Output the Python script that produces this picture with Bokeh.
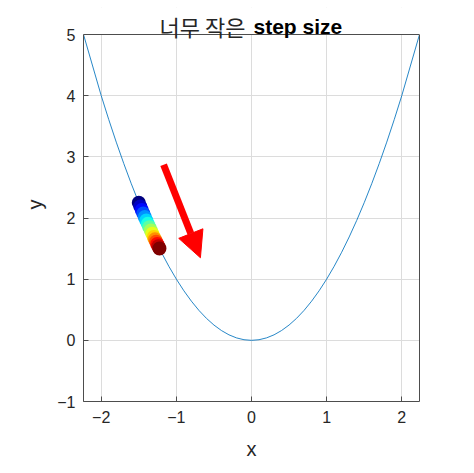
from bokeh.plotting import figure
from bokeh.models import (Arrow, NormalHead, Label, Range1d, FixedTicker, LinearAxis,
                          Span, BoxAnnotation)
from bokeh.embed import file_html
from bokeh.resources import INLINE

# parabola (y = x^2 samples)
curve_x = [-2.236, -2.0, -1.9, -1.8, -1.7, -1.6, -1.5, -1.4, -1.3, -1.2, -1.1, -1.0,
           -0.9, -0.8, -0.7, -0.6, -0.5, -0.4, -0.3, -0.2, -0.1, 0.0,
           0.1, 0.2, 0.3, 0.4, 0.5, 0.6, 0.7, 0.8, 0.9, 1.0, 1.1, 1.2, 1.3, 1.4,
           1.5, 1.6, 1.7, 1.8, 1.9, 2.0, 2.236]
curve_y = [5.0, 4.0, 3.61, 3.24, 2.89, 2.56, 2.25, 1.96, 1.69, 1.44, 1.21, 1.0,
           0.81, 0.64, 0.49, 0.36, 0.25, 0.16, 0.09, 0.04, 0.01, 0.0,
           0.01, 0.04, 0.09, 0.16, 0.25, 0.36, 0.49, 0.64, 0.81, 1.0, 1.21, 1.44, 1.69, 1.96,
           2.25, 2.56, 2.89, 3.24, 3.61, 4.0, 5.0]

# gradient-descent steps (small step size)
step_x = [-1.50, -1.48, -1.46, -1.44, -1.42, -1.40, -1.38, -1.36, -1.34, -1.32,
          -1.30, -1.285, -1.27, -1.255, -1.24, -1.225]
step_y = [2.250, 2.190, 2.132, 2.074, 2.016, 1.960, 1.904, 1.850, 1.796, 1.742,
          1.690, 1.651, 1.613, 1.575, 1.538, 1.501]

arrow_start = [-1.17, 2.87]
arrow_end = [-0.68, 1.35]

x_ticks = [-2, -1, 0, 1, 2]
y_ticks = [-1, 0, 1, 2, 3, 4, 5]
x_lim = (-2.236, 2.236)
y_lim = (-1, 5)

title_plain = "너무 작은"
title_bold = "step size"


def jet(t):
    r = min(max(1.5 - abs(4 * t - 3), 0), 1)
    g = min(max(1.5 - abs(4 * t - 2), 0), 1)
    b = min(max(1.5 - abs(4 * t - 1), 0), 1)
    return "#%02x%02x%02x" % (int(r * 255), int(g * 255), int(b * 255))


n = len(step_x)
step_colors = [jet(i / (n - 1)) for i in range(n)]

FONT = "Liberation Sans"
TXT = "#262626"
BOX = "#4d4d4d"

# frame extends 27px above y=5 to hold the title (axes box is drawn only up to y=5)
PLOT_H = 367
TITLE_PX = 27
y_top = y_lim[1] + (y_lim[1] - y_lim[0]) * TITLE_PX / PLOT_H

p = figure(frame_width=336, frame_height=PLOT_H + TITLE_PX, width=440, height=462,
           x_range=Range1d(*x_lim), y_range=Range1d(y_lim[0], y_top),
           output_backend="svg", toolbar_location=None,
           min_border_left=83, min_border_right=29, min_border_top=7, min_border_bottom=61)
p.background_fill_color = "white"
p.border_fill_color = "white"
p.outline_line_color = None

for ax in (p.xaxis[0], p.yaxis[0]):
    ax.axis_line_color = BOX
    ax.major_tick_line_color = BOX
    ax.major_tick_in = 5
    ax.major_tick_out = 0
    ax.minor_tick_line_color = None
    ax.major_label_text_font = FONT
    ax.major_label_text_font_size = "16px"
    ax.major_label_text_color = TXT
    ax.axis_label_text_font = FONT
    ax.axis_label_text_font_size = "20px"
    ax.axis_label_text_font_style = "normal"
    ax.axis_label_text_color = TXT

p.xaxis.ticker = FixedTicker(ticks=x_ticks)
p.yaxis.ticker = FixedTicker(ticks=y_ticks)
p.yaxis.bounds = y_lim
p.xaxis.axis_label = "x"
p.yaxis.axis_label = "y"
p.xaxis.major_label_standoff = 9
p.yaxis.major_label_standoff = 8
p.xaxis.axis_label_standoff = 12
p.yaxis.axis_label_standoff = 8

# right edge of the box
right_ax = LinearAxis(ticker=FixedTicker(ticks=[]), bounds=y_lim, axis_line_color=BOX,
                      major_tick_line_color=None, minor_tick_line_color=None)
p.add_layout(right_ax, "right")

p.xgrid.ticker = FixedTicker(ticks=x_ticks)
p.ygrid.ticker = FixedTicker(ticks=y_ticks)
p.grid.grid_line_color = "#dcdcdc"
p.grid.grid_line_width = 1

p.line(curve_x, curve_y, line_color="#0072BD", line_width=1, line_alpha=0.85)

p.scatter(step_x, step_y, size=14, fill_color=step_colors, line_color=None, marker="circle")

p.add_layout(Arrow(end=NormalHead(size=26, fill_color="#ff0000", line_color="#ff0000"),
                   x_start=arrow_start[0], y_start=arrow_start[1],
                   x_end=arrow_end[0], y_end=arrow_end[1],
                   line_color="#ff0000", line_width=7))

# white band above the box (title area) and top edge of the box
p.add_layout(BoxAnnotation(bottom=y_lim[1], fill_color="white", fill_alpha=1.0,
                           line_color=None, line_alpha=0))
p.add_layout(Span(location=y_lim[1], dimension="width", line_color=BOX, line_width=1))

p.add_layout(Label(x=0, y=y_lim[1], text=title_plain, text_align="right",
                   text_baseline="alphabetic", x_offset=-6, y_offset=9,
                   text_font="Noto Sans CJK KR", text_font_size="22px", text_color=TXT))
p.add_layout(Label(x=0, y=y_lim[1], text=title_bold, text_align="left",
                   text_baseline="alphabetic", x_offset=2, y_offset=8,
                   text_font=FONT, text_font_style="bold", text_font_size="21px",
                   text_color="#000000"))

open("out.html", "w").write(file_html(p, INLINE))
